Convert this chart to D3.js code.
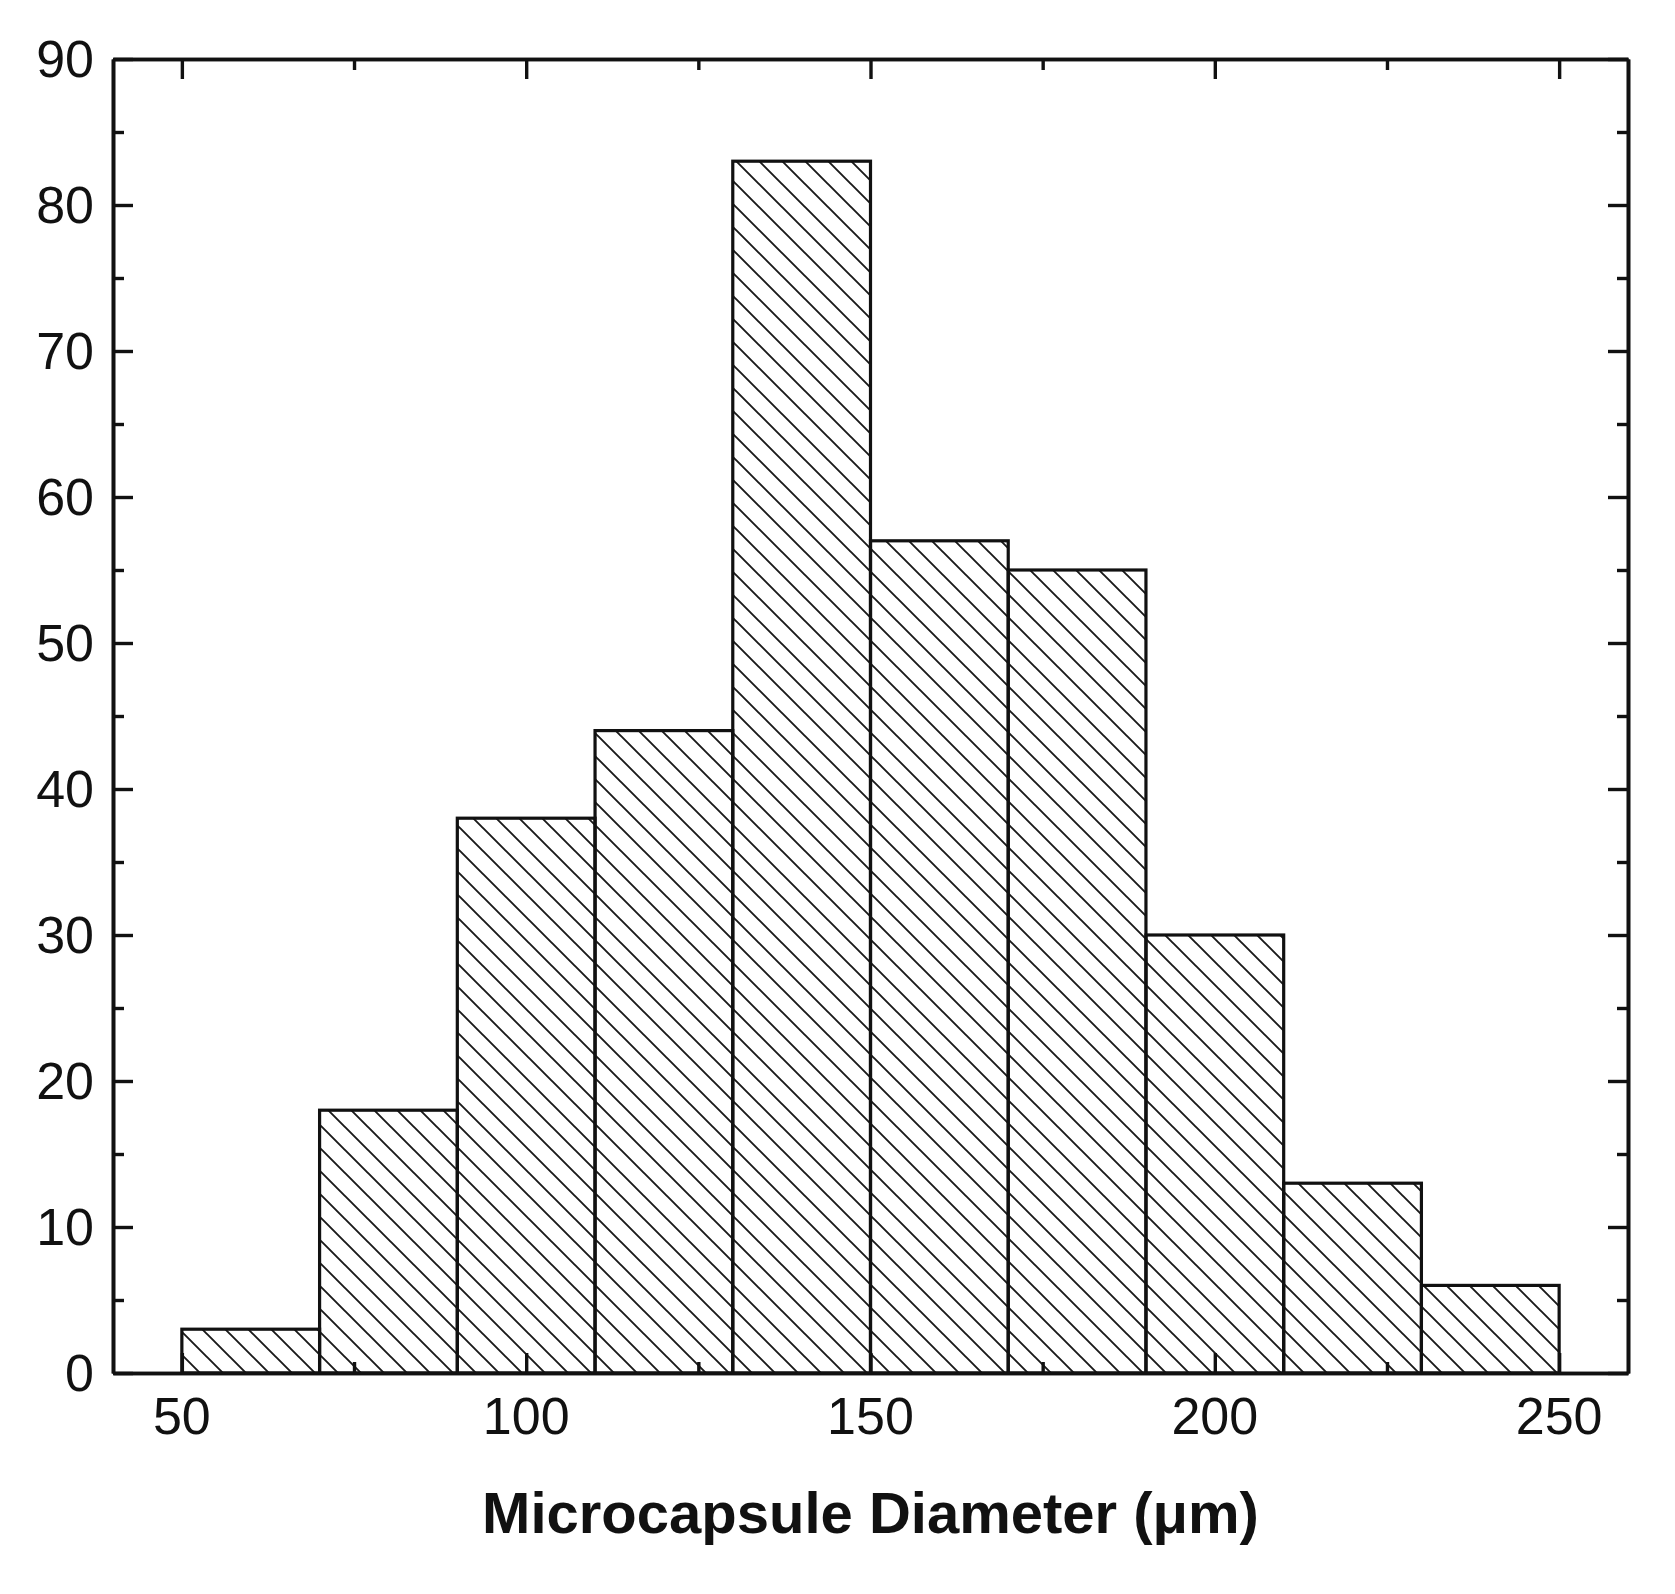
<!DOCTYPE html>
<meta charset="utf-8">
<style>
body { margin: 0; background: #fff; }
text { font-family: "Liberation Sans", Arial, sans-serif; fill: #111; }
.tick-label { font-size: 52px; }
.title { font-size: 58px; font-weight: bold; }
</style>
<svg width="1675" height="1594"></svg>
<script src="https://d3js.org/d3.v7.min.js"></script>
<script>

// histogram bins (um) and counts
var binStart = [50, 70, 90, 110, 130, 150, 170, 190, 210, 230];
var binEnd   = [70, 90, 110, 130, 150, 170, 190, 210, 230, 250];
var counts   = [3, 18, 38, 44, 83, 57, 55, 30, 13, 6];

var xMajor = [50, 100, 150, 200, 250];
var xMinor = [75, 125, 175, 225];
var yMajor = [0, 10, 20, 30, 40, 50, 60, 70, 80, 90];
var yMinor = [5, 15, 25, 35, 45, 55, 65, 75, 85];

var svg = d3.select("svg");

// plot box (note: "top" is reserved on window, so prefix these)
var pLeft = 113, pRight = 1628, pTop = 59, pBottom = 1373;

var x = d3.scaleLinear().domain([40, 260]).range([pLeft, pRight]);
var y = d3.scaleLinear().domain([0, 90]).range([pBottom, pTop]);

// hatch pattern
var defs = svg.append("defs");
defs.append("pattern")
    .attr("id", "hatch")
    .attr("patternUnits", "userSpaceOnUse")
    .attr("width", 23)
    .attr("height", 23)
    .append("path")
    .attr("d", "M-6,-6 L29,29 M-6,17 L6,29 M17,-6 L29,6")
    .attr("stroke", "#1a1a1a")
    .attr("stroke-width", 1.9);

//bars
svg.append("g")
    .selectAll("rect")
    .data(counts)
    .enter()
    .append("rect")
    .attr("x", function(d, i) { return x(binStart[i]); })
    .attr("width", function(d, i) { return x(binEnd[i]) - x(binStart[i]); })
    .attr("y", function(d) { return y(d); })
    .attr("height", function(d) { return y(0) - y(d); })
    .attr("fill", "url(#hatch)")
    .attr("stroke", "#111")
    .attr("stroke-width", 3.2);

// frame axes, ticks pointing inward
function frameAxis(axis, tr) {
    var g = svg.append("g").attr("transform", tr).call(axis);
    g.selectAll("text").remove();
    g.select(".domain").attr("stroke", "#111").attr("stroke-width", 3.6);
    g.selectAll(".tick line").attr("stroke", "#111").attr("stroke-width", 3.4);
    return g;
}

var major = 20, minor = 11;

[[d3.axisBottom, pBottom], [d3.axisTop, pTop]].forEach(function(s) {
    frameAxis(s[0](x).tickValues(xMajor).tickSize(-major).tickSizeOuter(0), "translate(0," + s[1] + ")");
    frameAxis(s[0](x).tickValues(xMinor).tickSize(-minor).tickSizeOuter(0), "translate(0," + s[1] + ")");
});
[[d3.axisLeft, pLeft], [d3.axisRight, pRight]].forEach(function(s) {
    frameAxis(s[0](y).tickValues(yMajor).tickSize(-major).tickSizeOuter(0), "translate(" + s[1] + ",0)");
    frameAxis(s[0](y).tickValues(yMinor).tickSize(-minor).tickSizeOuter(0), "translate(" + s[1] + ",0)");
});

// tick labels
svg.append("g").selectAll("text")
    .data(xMajor).enter().append("text")
    .attr("class", "tick-label")
    .attr("x", function(d) { return x(d); })
    .attr("y", 1434)
    .attr("text-anchor", "middle")
    .text(function(d) { return d; });

svg.append("g").selectAll("text")
    .data(yMajor).enter().append("text")
    .attr("class", "tick-label")
    .attr("x", 94)
    .attr("y", function(d) { return y(d) + 18; })
    .attr("text-anchor", "end")
    .text(function(d) { return d; });

svg.append("text")
    .attr("class", "title")
    .attr("x", (pLeft + pRight) / 2)
    .attr("y", 1533)
    .attr("text-anchor", "middle")
    .text("Microcapsule Diameter (\u03bcm)");

</script>
